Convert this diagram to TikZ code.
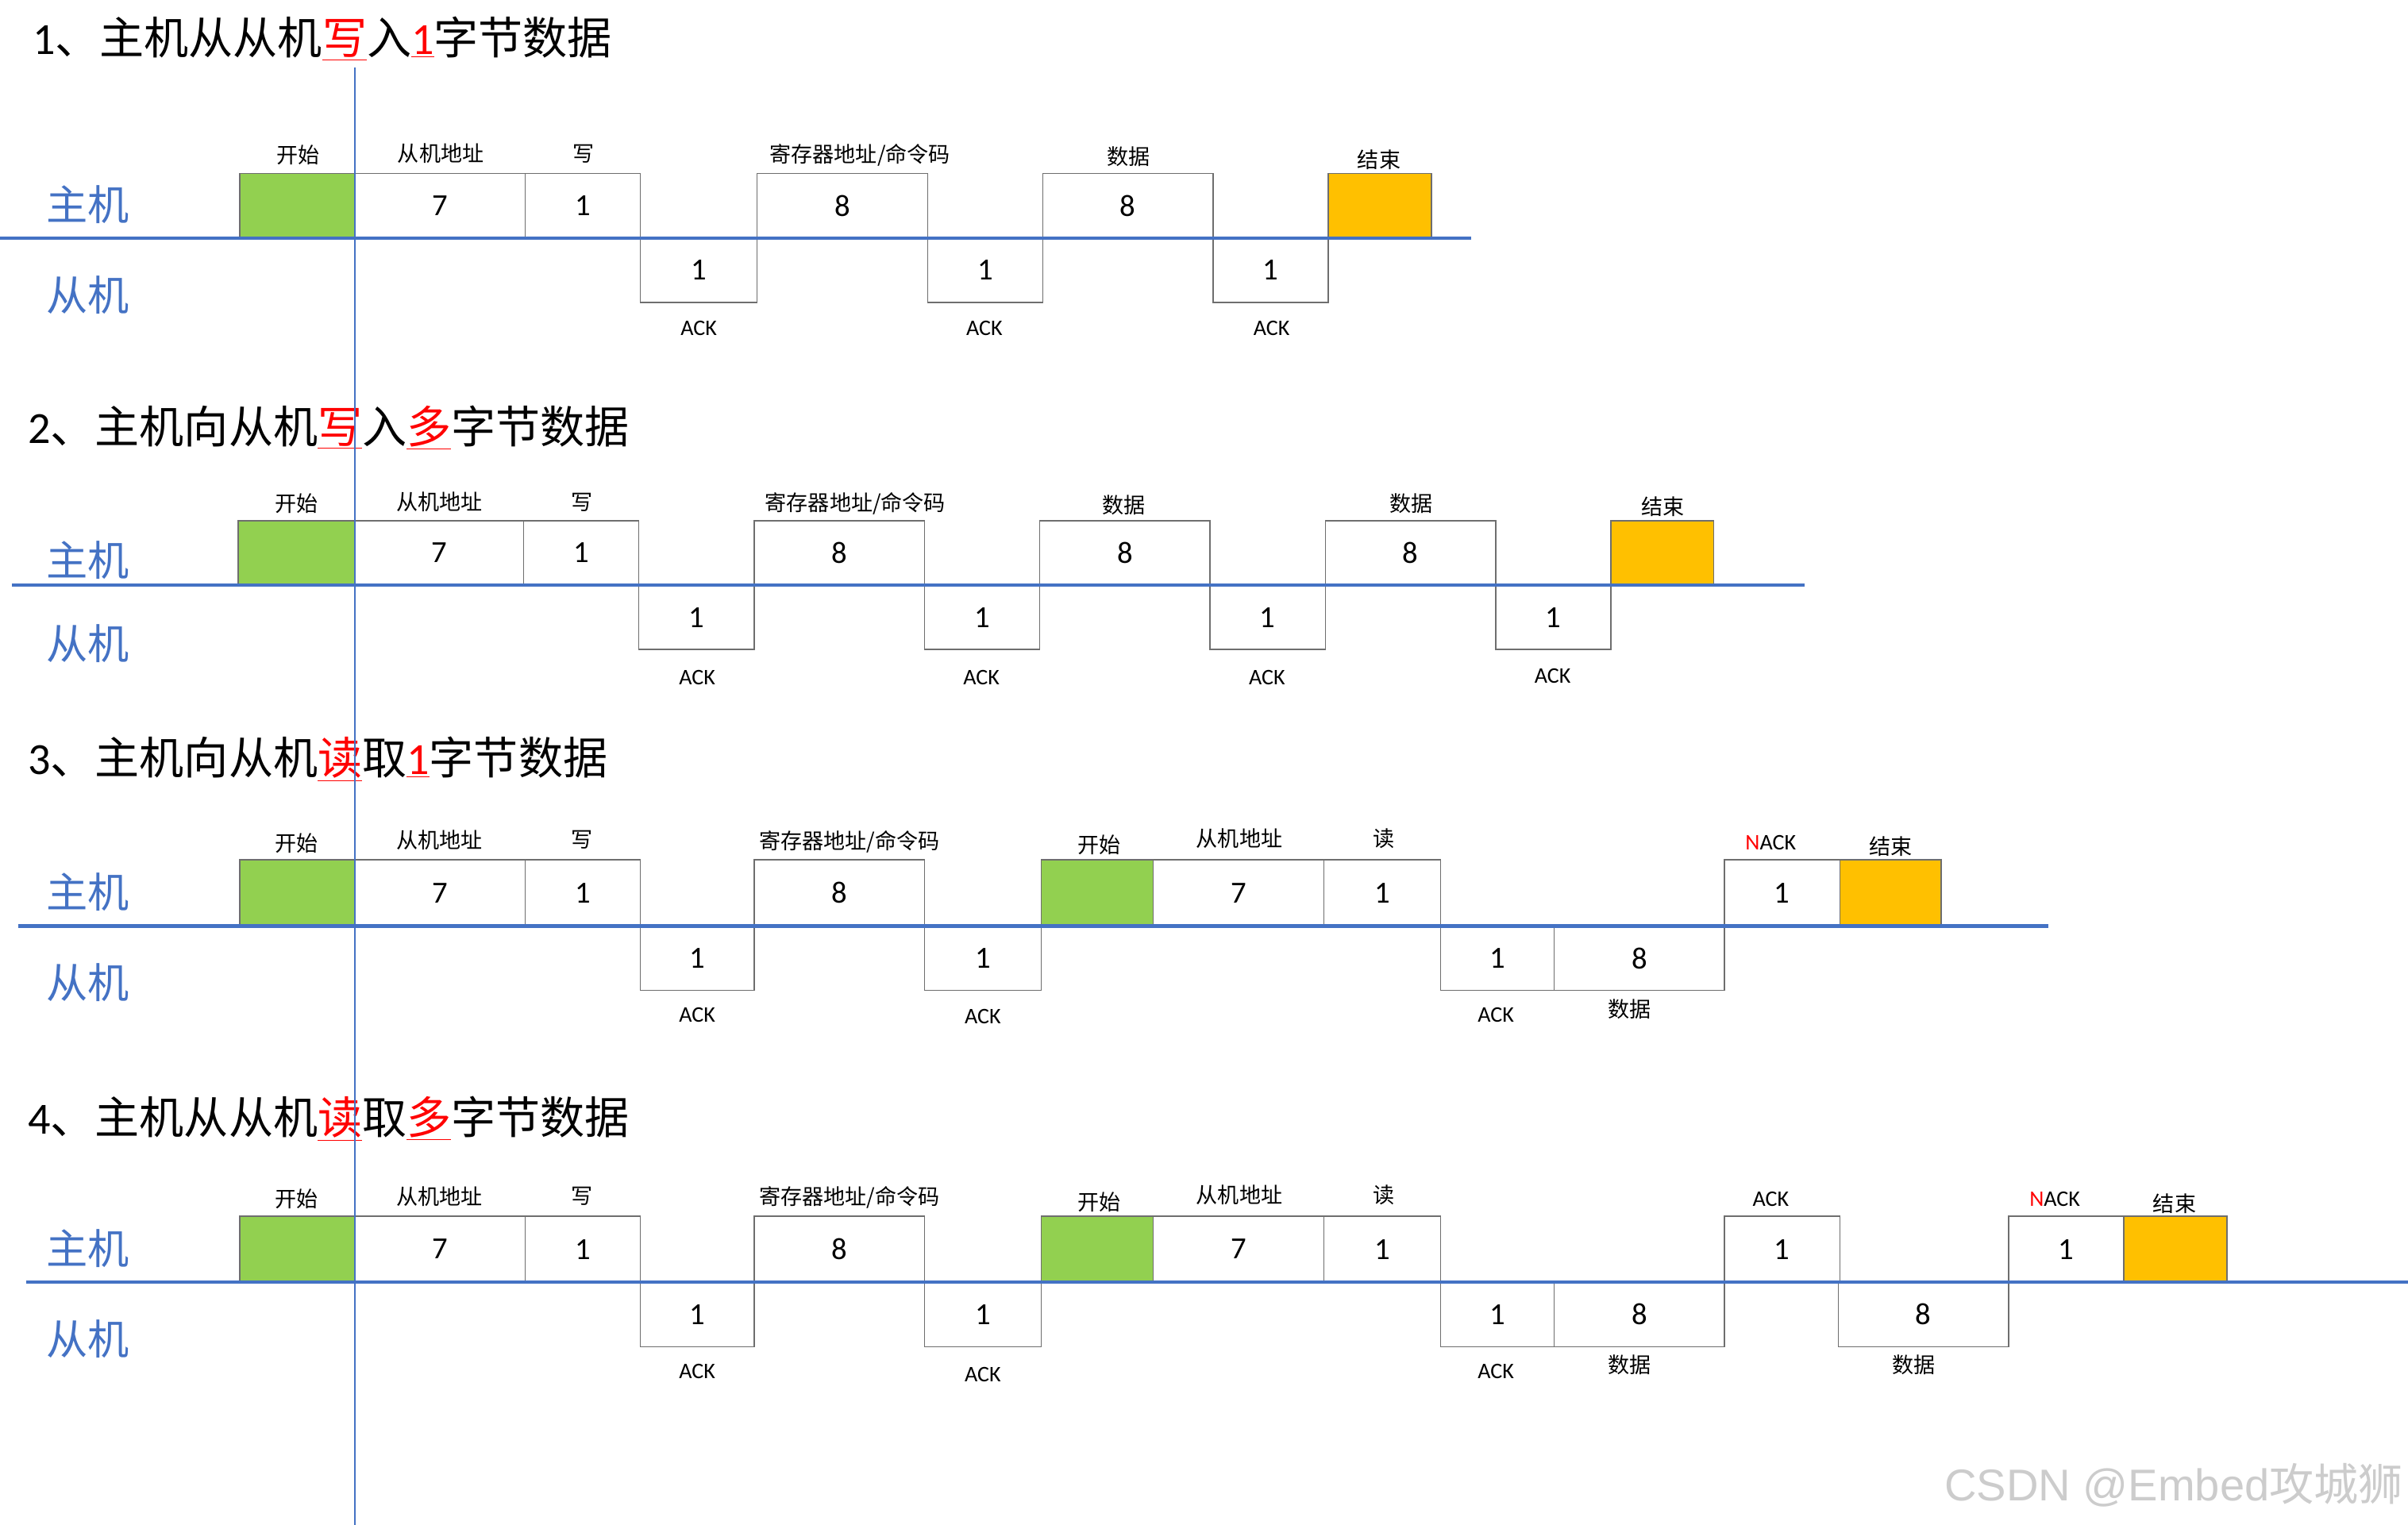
\documentclass[tikz,border=0pt]{standalone}
\usepackage{fontspec}
\setmainfont{Carlito}
\newfontfamily\cjk{Noto Sans CJK SC}
\newfontfamily\wmfont{Liberation Sans}
\definecolor{busblue}{HTML}{4472C4}
\definecolor{sgreen}{HTML}{92D050}
\definecolor{sorange}{HTML}{FFC000}
\definecolor{edgegray}{HTML}{6E6E6E}
\newcommand\hl[1]{\textcolor{red}{\underline{#1}}}
\newcommand\cellbox[7]{%
  \pgfmathsetmacro\cw{#3-#2}%
  \pgfmathsetmacro\ch{#5-#4}%
  \node[#6, minimum width=\cw pt, minimum height=\ch pt] (#1) at ({(#2+#3)/2},{(#4+#5)/2}) {#7};%
}
\tikzset{
  bus/.style={draw=busblue, line width=2.2pt},
  axisline/.style={draw=busblue, line width=0.9pt},
  cell/.style={draw=edgegray, line width=0.8pt, fill=white, inner sep=0pt, font=\fontsize{20}{20}\selectfont},
  startcell/.style={cell, fill=sgreen},
  endcell/.style={cell, fill=sorange},
  lbl/.style={inner sep=0pt, font=\cjk\fontsize{14}{14}\selectfont},
  elbl/.style={inner sep=0pt, font=\fontsize{14.5}{15}\selectfont},
  role/.style={inner sep=0pt, text=busblue, font=\cjk\fontsize{27}{28}\selectfont},
  ttl/.style={inner sep=0pt, anchor=base west, font=\fontsize{29}{30}\selectfont},
  wm/.style={inner sep=0pt, anchor=east, text=black!20, font=\wmfont\fontsize{29}{30}\selectfont}
}
\begin{document}
\begin{tikzpicture}[x=1pt,y=-1pt]
\useasboundingbox (0,0) rectangle (1568,993);

% ---------- titles ----------
\node[ttl] (t1) at (21,35.5) {1{\cjk 、主机从从机}\hl{\cjk 写}{\cjk 入}\hl{1}{\cjk 字节数据}};
\node[ttl] (t2) at (18,288.5) {2{\cjk 、主机向从机}\hl{\cjk 写}{\cjk 入}\hl{\cjk 多}{\cjk 字节数据}};
\node[ttl] (t3) at (18,504.5) {3{\cjk 、主机向从机}\hl{\cjk 读}{\cjk 取}\hl{1}{\cjk 字节数据}};
\node[ttl] (t4) at (18,738.5) {4{\cjk 、主机从从机}\hl{\cjk 读}{\cjk 取}\hl{\cjk 多}{\cjk 字节数据}};

% ---------- role labels ----------
\node[role] (m1) at (57,133) {主机};
\node[role] (s1) at (57,192) {从机};
\node[role] (m2) at (57,365) {主机};
\node[role] (s2) at (57,419) {从机};
\node[role] (m3) at (57,581) {主机};
\node[role] (s3) at (57,640) {从机};
\node[role] (m4) at (57,813) {主机};
\node[role] (s4) at (57,872) {从机};

% ---------- section 1 ----------
\cellbox{a0}{156}{231}{113}{155}{startcell}{}
\cellbox{a1}{231}{342}{113}{155}{cell}{7}
\cellbox{a2}{342}{417}{113}{155}{cell}{1}
\cellbox{a3}{417}{493}{155}{197}{cell}{1}
\cellbox{a4}{493}{604}{113}{155}{cell}{8}
\cellbox{a5}{604}{679}{155}{197}{cell}{1}
\cellbox{a6}{679}{790}{113}{155}{cell}{8}
\cellbox{a7}{790}{865}{155}{197}{cell}{1}
\cellbox{a8}{865}{932}{113}{155}{endcell}{}
\node[lbl] (la0) at (194,101) {开始};
\node[lbl] (la1) at (287,100) {从机地址};
\node[lbl] (la2) at (380,100) {写};
\node[lbl] (la4) at (560,101) {寄存器地址/命令码};
\node[lbl] (la6) at (735,102) {数据};
\node[lbl] (la8) at (898,104) {结束};
\node[elbl] (la3) at (455,214) {ACK};
\node[elbl] (la5) at (641,214) {ACK};
\node[elbl] (la7) at (828,214) {ACK};
\coordinate (bs1) at (0,155);
\coordinate (be1) at (958,155);
\draw[bus] (bs1) -- (be1);

% ---------- section 2 ----------
\cellbox{b0}{155}{231}{339}{381}{startcell}{}
\cellbox{b1}{231}{341}{339}{381}{cell}{7}
\cellbox{b2}{341}{416}{339}{381}{cell}{1}
\cellbox{b3}{416}{491}{381}{423}{cell}{1}
\cellbox{b4}{491}{602}{339}{381}{cell}{8}
\cellbox{b5}{602}{677}{381}{423}{cell}{1}
\cellbox{b6}{677}{788}{339}{381}{cell}{8}
\cellbox{b7}{788}{863}{381}{423}{cell}{1}
\cellbox{b8}{863}{974}{339}{381}{cell}{8}
\cellbox{b9}{974}{1049}{381}{423}{cell}{1}
\cellbox{b10}{1049}{1116}{339}{381}{endcell}{}
\node[lbl] (lb0) at (193,328) {开始};
\node[lbl] (lb1) at (286,327) {从机地址};
\node[lbl] (lb2) at (379,327) {写};
\node[lbl] (lb4) at (557,328) {寄存器地址/命令码};
\node[lbl] (lb6) at (732,329) {数据};
\node[lbl] (lb8) at (919,328) {数据};
\node[lbl] (lb10) at (1083,330) {结束};
\node[elbl] (lb3) at (454,441) {ACK};
\node[elbl] (lb5) at (639,441) {ACK};
\node[elbl] (lb7) at (825,441) {ACK};
\node[elbl] (lb9) at (1011,440) {ACK};
\coordinate (bs2) at (8,381);
\coordinate (be2) at (1175,381);
\draw[bus] (bs2) -- (be2);

% ---------- section 3 ----------
\cellbox{c0}{156}{231}{560}{603}{startcell}{}
\cellbox{c1}{231}{342}{560}{603}{cell}{7}
\cellbox{c2}{342}{417}{560}{603}{cell}{1}
\cellbox{c3}{417}{491}{603}{645}{cell}{1}
\cellbox{c4}{491}{602}{560}{603}{cell}{8}
\cellbox{c5}{602}{678}{603}{645}{cell}{1}
\cellbox{c6}{678}{751}{560}{603}{startcell}{}
\cellbox{c7}{751}{862}{560}{603}{cell}{7}
\cellbox{c8}{862}{938}{560}{603}{cell}{1}
\cellbox{c9}{938}{1012}{603}{645}{cell}{1}
\cellbox{c10}{1012}{1123}{603}{645}{cell}{8}
\cellbox{c11}{1123}{1198}{560}{603}{cell}{1}
\cellbox{c12}{1198}{1264}{560}{603}{endcell}{}
\node[lbl] (lc0) at (193,549) {开始};
\node[lbl] (lc1) at (286,547) {从机地址};
\node[lbl] (lc2) at (379,547) {写};
\node[lbl] (lc4) at (553,548) {寄存器地址/命令码};
\node[lbl] (lc6) at (716,550) {开始};
\node[lbl] (lc7) at (807,546) {从机地址};
\node[lbl] (lc8) at (901,546) {读};
\node[elbl] (lc11) at (1153,549) {{\color{red}N}ACK};
\node[lbl] (lc12) at (1231,551) {结束};
\node[elbl] (lc3) at (454,661) {ACK};
\node[elbl] (lc5) at (640,662) {ACK};
\node[elbl] (lc9) at (974,661) {ACK};
\node[lbl] (lc10) at (1061,657) {数据};
\coordinate (bs3) at (12,603);
\coordinate (be3) at (1334,603);
\draw[bus] (bs3) -- (be3);

% ---------- section 4 ----------
\cellbox{d0}{156}{231}{792}{835}{startcell}{}
\cellbox{d1}{231}{342}{792}{835}{cell}{7}
\cellbox{d2}{342}{417}{792}{835}{cell}{1}
\cellbox{d3}{417}{491}{835}{877}{cell}{1}
\cellbox{d4}{491}{602}{792}{835}{cell}{8}
\cellbox{d5}{602}{678}{835}{877}{cell}{1}
\cellbox{d6}{678}{751}{792}{835}{startcell}{}
\cellbox{d7}{751}{862}{792}{835}{cell}{7}
\cellbox{d8}{862}{938}{792}{835}{cell}{1}
\cellbox{d9}{938}{1012}{835}{877}{cell}{1}
\cellbox{d10}{1012}{1123}{835}{877}{cell}{8}
\cellbox{d11}{1123}{1198}{792}{835}{cell}{1}
\cellbox{d12}{1197}{1308}{835}{877}{cell}{8}
\cellbox{d13}{1308}{1383}{792}{835}{cell}{1}
\cellbox{d14}{1383}{1450}{792}{835}{endcell}{}
\node[lbl] (ld0) at (193,781) {开始};
\node[lbl] (ld1) at (286,779) {从机地址};
\node[lbl] (ld2) at (379,779) {写};
\node[lbl] (ld4) at (553,780) {寄存器地址/命令码};
\node[lbl] (ld6) at (716,783) {开始};
\node[lbl] (ld7) at (807,778) {从机地址};
\node[lbl] (ld8) at (901,778) {读};
\node[elbl] (ld11) at (1153,781) {ACK};
\node[elbl] (ld13) at (1338,781) {{\color{red}N}ACK};
\node[lbl] (ld14) at (1416,784) {结束};
\node[elbl] (ld3) at (454,893) {ACK};
\node[elbl] (ld5) at (640,895) {ACK};
\node[elbl] (ld9) at (974,893) {ACK};
\node[lbl] (ld10) at (1061,889) {数据};
\node[lbl] (ld12) at (1246,889) {数据};
\coordinate (bs4) at (17,835);
\coordinate (be4) at (1568,835);
\draw[bus] (bs4) -- (be4);

% ---------- vertical axis ----------
\coordinate (vtop) at (231,44);
\coordinate (vbot) at (231,993);
\draw[axisline] (vtop) -- (vbot);

% ---------- watermark ----------
\node[wm] (wmk) at (1565,967) {CSDN @Embed{\cjk 攻城狮}};
\end{tikzpicture}
\end{document}
